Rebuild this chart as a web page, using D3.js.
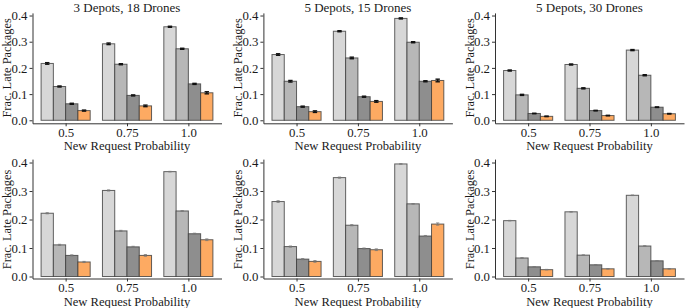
<!DOCTYPE html>
<html>
<head>
<meta charset="utf-8">
<script src="https://cdn.jsdelivr.net/npm/d3@7"></script>
<style>
  html, body { margin: 0; padding: 0; background: #fff; }
  svg { display: block; }
</style>
</head>
<body>
<svg id="chart" width="685" height="308"></svg>
<script>
// ---------- data ----------
const categories = ["0.5", "0.75", "1.0"];
const seriesNames = ["light", "medium", "dark", "orange"];
const seriesColors = ["#d7d7d7", "#b7b7b7", "#8e8e8e", "#fdaa62"];
const yTickValues = [0.0, 0.1, 0.2, 0.3, 0.4];
const panelTitles = ["3 Depots, 18 Drones", "5 Depots, 15 Drones", "5 Depots, 30 Drones"];
const xAxisLabel = "New Request Probability";
const yAxisLabel = "Frac. Late Packages";

// each row of a panel = one series, across categories 0.5 / 0.75 / 1.0
const valuesTopLeft = [
  [0.217, 0.292, 0.357],
  [0.129, 0.214, 0.273],
  [0.063, 0.095, 0.139],
  [0.037, 0.055, 0.105]
];
const errorsTopLeft = [
  [0.003, 0.003, 0.002],
  [0.002, 0.002, 0.002],
  [0.002, 0.002, 0.002],
  [0.002, 0.003, 0.004]
];
const valuesTopMid = [
  [0.251, 0.340, 0.389],
  [0.149, 0.238, 0.298],
  [0.052, 0.090, 0.149],
  [0.033, 0.072, 0.152]
];
const errorsTopMid = [
  [0.003, 0.002, 0.002],
  [0.003, 0.003, 0.002],
  [0.002, 0.002, 0.002],
  [0.003, 0.003, 0.005]
];
const valuesTopRight = [
  [0.190, 0.213, 0.268],
  [0.097, 0.122, 0.172],
  [0.026, 0.037, 0.050],
  [0.015, 0.018, 0.025]
];
const errorsTopRight = [
  [0.002, 0.002, 0.002],
  [0.002, 0.002, 0.002],
  [0.001, 0.001, 0.001],
  [0.001, 0.001, 0.001]
];
const valuesBotLeft = [
  [0.222, 0.302, 0.368],
  [0.111, 0.160, 0.230],
  [0.074, 0.104, 0.150],
  [0.051, 0.074, 0.129]
];
const errorsBotLeft = [
  [0.002, 0.002, 0.001],
  [0.002, 0.002, 0.001],
  [0.002, 0.002, 0.002],
  [0.002, 0.003, 0.003]
];
const valuesBotMid = [
  [0.263, 0.347, 0.395],
  [0.105, 0.180, 0.255],
  [0.061, 0.098, 0.142],
  [0.053, 0.094, 0.184]
];
const errorsBotMid = [
  [0.003, 0.002, 0.001],
  [0.002, 0.002, 0.001],
  [0.002, 0.002, 0.002],
  [0.003, 0.003, 0.004]
];
const valuesBotRight = [
  [0.196, 0.227, 0.285],
  [0.065, 0.075, 0.107],
  [0.034, 0.041, 0.055],
  [0.024, 0.027, 0.027]
];
const errorsBotRight = [
  [0.001, 0.001, 0.001],
  [0.001, 0.001, 0.001],
  [0.001, 0.001, 0.001],
  [0.001, 0.001, 0.001]
];

// ---------- layout ----------
const FONT = "'Liberation Serif', 'Times New Roman', Times, 'DejaVu Serif', serif";
const svg = d3.select("#chart");
const colLeft = [32.5, 263.4, 495];
const plotWidth = 189;
const rows = [
  { yDomain: [-0.0115, 0.41], yRange: [123.3, 12.9], titleY: 11.5, tickFont: 12.8, tickPad: 2, xLabelY: 150, yLabelFont: 12.4, errColor: "#111", errWidth: 1.4, capHalf: 2.2 },
  { yDomain: [-0.007, 0.412], yRange: [278.5, 159.1], titleY: null, tickFont: 12.8, tickPad: 1.5, xLabelY: 305.5, yLabelFont: 12.4, errColor: "#777", errWidth: 0.8, capHalf: 1.6 }
];
const panels = [
  { row: 0, col: 0, values: valuesTopLeft, errors: errorsTopLeft, title: panelTitles[0] },
  { row: 0, col: 1, values: valuesTopMid, errors: errorsTopMid, title: panelTitles[1] },
  { row: 0, col: 2, values: valuesTopRight, errors: errorsTopRight, title: panelTitles[2] },
  { row: 1, col: 0, values: valuesBotLeft, errors: errorsBotLeft, title: null },
  { row: 1, col: 1, values: valuesBotMid, errors: errorsBotMid, title: null },
  { row: 1, col: 2, values: valuesBotRight, errors: errorsBotRight, title: null }
];

const barWidth = 0.2;

panels.forEach(p => {
  const r = rows[p.row];
  const x0 = colLeft[p.col];
  const x = d3.scaleLinear().domain([-0.54, 2.54]).range([x0, x0 + plotWidth]);
  const y = d3.scaleLinear().domain(r.yDomain).range(r.yRange);
  const g = svg.append("g");

  // bars
  p.values.forEach((series, si) => {
    series.forEach((v, ci) => {
      const left = ci - 0.4 + si * barWidth;
      g.append("rect")
        .attr("x", x(left))
        .attr("y", y(v))
        .attr("width", x(left + barWidth) - x(left))
        .attr("height", y(0) - y(v))
        .attr("fill", seriesColors[si])
        .attr("stroke", "#3c3c3c")
        .attr("stroke-opacity", 0.8)
        .attr("stroke-width", 1);
    });
  });

  // error bars
  p.values.forEach((series, si) => {
    series.forEach((v, ci) => {
      const e = p.errors[si][ci];
      const cx = x(ci - 0.4 + (si + 0.5) * barWidth);
      const eg = g.append("g").attr("stroke", r.errColor).attr("stroke-width", r.errWidth);
      eg.append("line").attr("x1", cx).attr("x2", cx).attr("y1", y(v - e)).attr("y2", y(v + e));
      eg.append("line").attr("x1", cx - r.capHalf).attr("x2", cx + r.capHalf).attr("y1", y(v - e)).attr("y2", y(v - e));
      eg.append("line").attr("x1", cx - r.capHalf).attr("x2", cx + r.capHalf).attr("y1", y(v + e)).attr("y2", y(v + e));
    });
  });

  // axes
  const yAxis = d3.axisLeft(y).tickValues(yTickValues).tickFormat(d3.format(".1f"))
    .tickSize(3).tickSizeOuter(0).tickPadding(2);
  const yg = g.append("g").attr("transform", `translate(${x0},0)`).call(yAxis);
  const xAxis = d3.axisBottom(x).tickValues([0, 1, 2]).tickFormat((d, i) => categories[i])
    .tickSize(3).tickSizeOuter(0).tickPadding(r.tickPad);
  const xg = g.append("g").attr("transform", `translate(0,${r.yRange[0]})`).call(xAxis);
  [yg, xg].forEach(ax => {
    ax.attr("font-family", FONT).attr("font-size", r.tickFont);
    ax.selectAll("path.domain").attr("stroke", "#333").attr("stroke-width", 1);
    ax.selectAll(".tick line").attr("stroke", "#333");
    ax.selectAll(".tick text")
      .attr("font-family", FONT)
      .attr("font-size", r.tickFont)
      .attr("fill", "#1a1a1a");
  });

  // labels
  const cx = x0 + plotWidth / 2;
  if (p.title) {
    g.append("text").attr("x", cx).attr("y", r.titleY).attr("text-anchor", "middle")
      .attr("font-family", FONT).attr("font-size", 13).attr("fill", "#1a1a1a").text(p.title);
  }
  g.append("text").attr("x", cx).attr("y", r.xLabelY).attr("text-anchor", "middle")
    .attr("font-family", FONT).attr("font-size", 12.6).attr("fill", "#1a1a1a").text(xAxisLabel);
  const midY = (y(0) + y(0.4)) / 2;
  g.append("text")
    .attr("transform", `translate(${x0 - 21.5},${midY}) rotate(-90)`)
    .attr("text-anchor", "middle")
    .attr("font-family", FONT)
    .attr("font-size", r.yLabelFont)
    .attr("fill", "#1a1a1a")
    .text(yAxisLabel);
});
</script>
</body>
</html>
